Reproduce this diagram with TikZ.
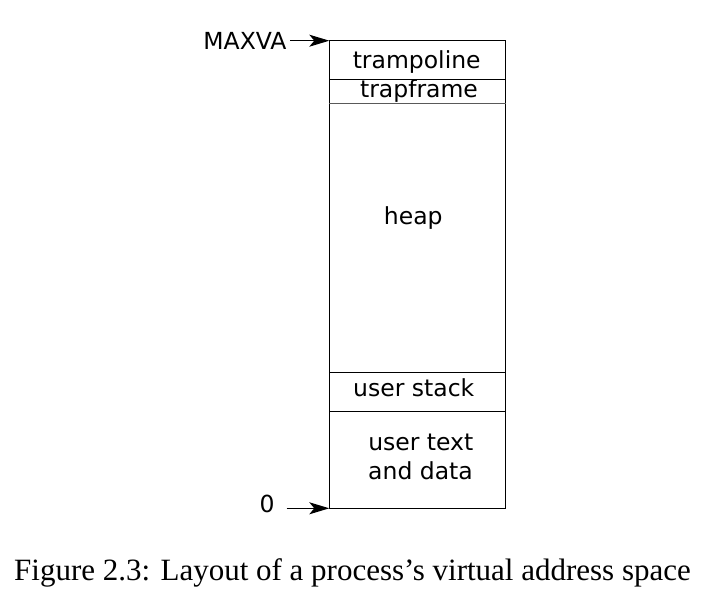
\documentclass[tikz,border=0pt]{standalone}
\usepackage{fontspec}
\setmainfont{Liberation Serif}
\newfontfamily\dvs{DejaVu Sans}
\usetikzlibrary{arrows.meta}
\tikzset{
  lbl/.style={font=\dvs\fontsize{23.5}{26}\selectfont, inner sep=0pt, anchor=base},
  arr/.style={line width=1.1pt, -{Stealth[length=20pt,width=12pt,inset=5pt]}},
  div/.style={line width=0.8pt}}
\begin{document}
\begin{tikzpicture}
\useasboundingbox (0pt,0pt) rectangle (715pt,-601pt);
\draw[line width=1.3pt] (329.3pt,-40.7pt) rectangle (505.7pt,-508.3pt);
\coordinate (tl) at (329.3pt,-40.7pt);
\coordinate (bl) at (329.3pt,-508.3pt);
\draw[div] (329.3pt,-79.3pt) -- (505.7pt,-79.3pt);
\draw[div,gray!70!black] (329.3pt,-103.3pt) -- (505.7pt,-103.3pt);
\draw[div] (329.3pt,-372.3pt) -- (505.7pt,-372.3pt);
\draw[div] (329.3pt,-411pt) -- (505.7pt,-411pt);
\node[lbl] (tramp) at (416.7pt,-68.3pt) {trampoline};
\node[lbl] (trapf) at (419pt,-97.5pt) {trapframe};
\node[lbl] (heap) at (413.3pt,-224.3pt) {heap};
\node[lbl] (ustack) at (413.8pt,-396.5pt) {user stack};
\node[lbl] (utext) at (420.8pt,-450.7pt) {user text};
\node[lbl] (udata) at (420.5pt,-479pt) {and data};
\node[lbl,anchor=base east] (maxva) at (286.7pt,-49.3pt) {MAXVA};
\node[lbl] (zero) at (267pt,-512.7pt) {0};
\coordinate (maxs) at (290pt,-40.7pt);
\coordinate (zs) at (286.7pt,-508.3pt);
\draw[arr] (maxs) -- (tl);
\draw[arr] (zs) -- (bl);
\node[inner sep=0pt, anchor=base west, font=\fontsize{31}{34}\selectfont] (cap) at (14pt,-580.5pt) {Figure 2.3: Layout of a process’s virtual address space};
\end{tikzpicture}
\end{document}
